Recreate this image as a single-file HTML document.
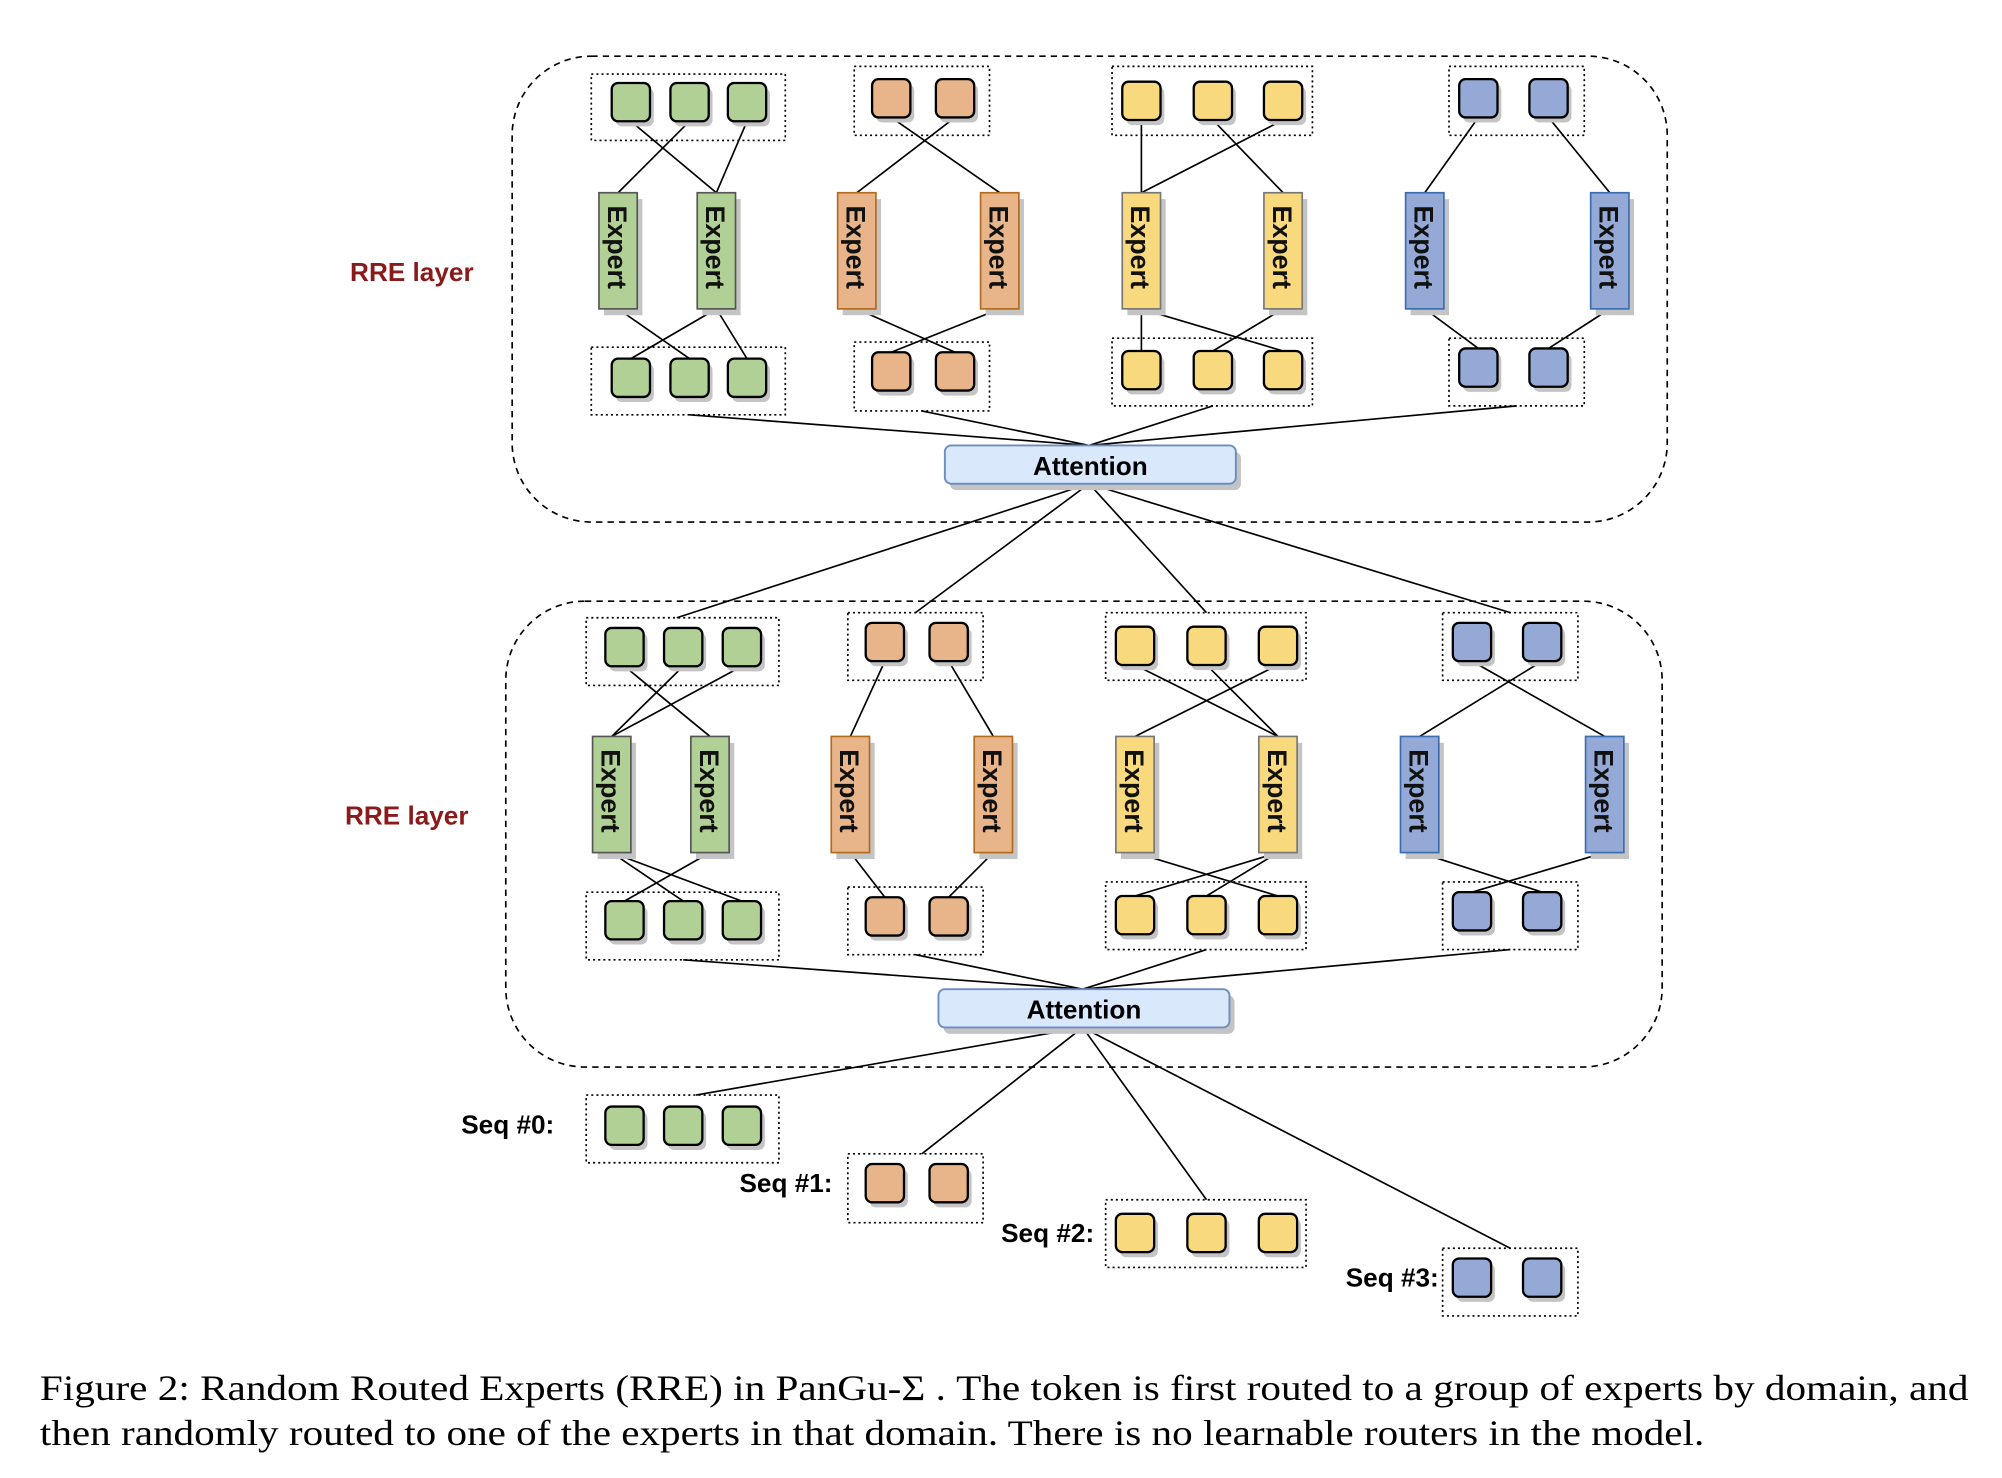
<!DOCTYPE html>
<html><head><meta charset="utf-8"><style>
html,body{margin:0;padding:0;background:#fff;width:2002px;height:1478px;overflow:hidden}
svg{display:block}
.l{stroke:#000;stroke-width:1.3;fill:none}
.dot{fill:none;stroke:#000;stroke-width:1.3;stroke-dasharray:1.6,2.4}
.sh{fill:#c4c4c4}
.sq{stroke:#000;stroke-width:1.8}
.g{fill:#b0d095}.o{fill:#e8b48a}.y{fill:#f8d97d}.b{fill:#94a9d6}
.ex{font-family:"Liberation Sans",sans-serif;font-weight:bold;font-size:21px;fill:#111}
.lab{font-family:"Liberation Sans",sans-serif;font-weight:bold;font-size:20.5px}
</style></head><body>
<svg width="2002" height="1478" viewBox="0 0 1568 1158" xmlns="http://www.w3.org/2000/svg">
<defs>
<g id="sqg"><rect x="3" y="4" width="30" height="30" rx="5" class="sh"/><rect width="30" height="30" rx="5" class="sq g"/></g>
<g id="sqo"><rect x="3" y="4" width="30" height="30" rx="5" class="sh"/><rect width="30" height="30" rx="5" class="sq o"/></g>
<g id="sqy"><rect x="3" y="4" width="30" height="30" rx="5" class="sh"/><rect width="30" height="30" rx="5" class="sq y"/></g>
<g id="sqb"><rect x="3" y="4" width="30" height="30" rx="5" class="sh"/><rect width="30" height="30" rx="5" class="sq b"/></g>
</defs>

<rect x="401" y="44" width="905" height="365" rx="62" fill="none" stroke="#000" stroke-width="1.3" stroke-dasharray="5,4"/>
<text x="274" y="220" class="lab" fill="#8b1a1a">RRE layer</text>

<g class="l">
<line x1="494" y1="95" x2="561" y2="151"/><line x1="540" y1="95" x2="484" y2="151"/><line x1="585" y1="95" x2="561" y2="151"/>
<line x1="484" y1="242" x2="540" y2="281"/><line x1="561" y1="242" x2="494" y2="281"/><line x1="561" y1="242" x2="585" y2="281"/>
<line x1="698" y1="92" x2="783" y2="151"/><line x1="748" y1="92" x2="671" y2="151"/>
<line x1="671" y1="242" x2="748" y2="276"/><line x1="783" y1="242" x2="698" y2="276"/>
<line x1="894" y1="94" x2="894" y2="151"/><line x1="950" y1="94" x2="1005" y2="151"/><line x1="1005" y1="94" x2="894" y2="151"/>
<line x1="894" y1="242" x2="894" y2="275"/><line x1="894" y1="242" x2="1005" y2="275"/><line x1="1005" y1="242" x2="950" y2="275"/>
<line x1="1158" y1="92" x2="1116" y2="151"/><line x1="1213" y1="92" x2="1261" y2="151"/>
<line x1="1116" y1="242" x2="1158" y2="273"/><line x1="1261" y1="242" x2="1213" y2="273"/>
<line x1="540" y1="325" x2="853" y2="349"/><line x1="722" y1="322" x2="853" y2="349"/><line x1="950" y1="318" x2="853" y2="349"/><line x1="1188" y1="318" x2="853" y2="349"/>
<line x1="853" y1="379" x2="530" y2="484"/><line x1="853" y1="379" x2="717" y2="480"/><line x1="853" y1="379" x2="945" y2="480"/><line x1="853" y1="379" x2="1183" y2="480"/>
</g>

<rect x="463" y="58" width="152" height="52" class="dot"/>
<rect x="669" y="52" width="106" height="54" class="dot"/>
<rect x="871" y="52" width="157" height="54" class="dot"/>
<rect x="1135" y="52" width="106" height="54" class="dot"/>
<rect x="463" y="272" width="152" height="53" class="dot"/>
<rect x="669" y="268" width="106" height="54" class="dot"/>
<rect x="871" y="265" width="157" height="53" class="dot"/>
<rect x="1135" y="265" width="106" height="53" class="dot"/>

<use href="#sqg" x="479" y="65"/><use href="#sqg" x="525" y="65"/><use href="#sqg" x="570" y="65"/>
<use href="#sqo" x="683" y="62"/><use href="#sqo" x="733" y="62"/>
<use href="#sqy" x="879" y="64"/><use href="#sqy" x="935" y="64"/><use href="#sqy" x="990" y="64"/>
<use href="#sqb" x="1143" y="62"/><use href="#sqb" x="1198" y="62"/>
<use href="#sqg" x="479" y="281"/><use href="#sqg" x="525" y="281"/><use href="#sqg" x="570" y="281"/>
<use href="#sqo" x="683" y="276"/><use href="#sqo" x="733" y="276"/>
<use href="#sqy" x="879" y="275"/><use href="#sqy" x="935" y="275"/><use href="#sqy" x="990" y="275"/>
<use href="#sqb" x="1143" y="273"/><use href="#sqb" x="1198" y="273"/>

<g>
<rect x="473" y="156" width="30" height="91" class="sh"/><rect x="469" y="151" width="30" height="91" fill="#b0d095" stroke="#555" stroke-width="1.3"/>
<rect x="550" y="156" width="30" height="91" class="sh"/><rect x="546" y="151" width="30" height="91" fill="#b0d095" stroke="#555" stroke-width="1.3"/>
<rect x="660" y="156" width="30" height="91" class="sh"/><rect x="656" y="151" width="30" height="91" fill="#e8b48a" stroke="#b46a1c" stroke-width="1.3"/>
<rect x="772" y="156" width="30" height="91" class="sh"/><rect x="768" y="151" width="30" height="91" fill="#e8b48a" stroke="#b46a1c" stroke-width="1.3"/>
<rect x="883" y="156" width="30" height="91" class="sh"/><rect x="879" y="151" width="30" height="91" fill="#f8d97d" stroke="#777" stroke-width="1.3"/>
<rect x="994" y="156" width="30" height="91" class="sh"/><rect x="990" y="151" width="30" height="91" fill="#f8d97d" stroke="#777" stroke-width="1.3"/>
<rect x="1105" y="156" width="30" height="91" class="sh"/><rect x="1101" y="151" width="30" height="91" fill="#94a9d6" stroke="#3a6db0" stroke-width="1.3"/>
<rect x="1250" y="156" width="30" height="91" class="sh"/><rect x="1246" y="151" width="30" height="91" fill="#94a9d6" stroke="#3a6db0" stroke-width="1.3"/>
</g>
<text class="ex" transform="translate(476,161) rotate(90)">Expert</text>
<text class="ex" transform="translate(553,161) rotate(90)">Expert</text>
<text class="ex" transform="translate(663,161) rotate(90)">Expert</text>
<text class="ex" transform="translate(775,161) rotate(90)">Expert</text>
<text class="ex" transform="translate(886,161) rotate(90)">Expert</text>
<text class="ex" transform="translate(997,161) rotate(90)">Expert</text>
<text class="ex" transform="translate(1108,161) rotate(90)">Expert</text>
<text class="ex" transform="translate(1253,161) rotate(90)">Expert</text>

<rect x="744" y="354" width="228" height="30" rx="5" class="sh"/>
<rect x="740" y="349" width="228" height="30" rx="5" fill="#dae8fc" stroke="#6c8ebf" stroke-width="1.5"/>
<text x="854" y="372" text-anchor="middle" class="lab">Attention</text>

<rect x="396" y="471" width="906" height="365" rx="62" fill="none" stroke="#000" stroke-width="1.3" stroke-dasharray="5,4"/>
<text x="270" y="646" class="lab" fill="#8b1a1a">RRE layer</text>

<g class="l">
<line x1="489" y1="522" x2="556" y2="577"/><line x1="535" y1="522" x2="479" y2="577"/><line x1="581" y1="522" x2="479" y2="577"/>
<line x1="479" y1="668" x2="535" y2="706"/><line x1="479" y1="668" x2="581" y2="706"/><line x1="556" y1="668" x2="489" y2="706"/>
<line x1="693" y1="518" x2="666" y2="577"/><line x1="743" y1="518" x2="778" y2="577"/>
<line x1="666" y1="668" x2="693" y2="703"/><line x1="778" y1="668" x2="743" y2="703"/>
<line x1="889" y1="521" x2="1001" y2="577"/><line x1="945" y1="521" x2="1001" y2="577"/><line x1="1001" y1="521" x2="889" y2="577"/>
<line x1="889" y1="668" x2="1001" y2="702"/><line x1="1001" y1="668" x2="889" y2="702"/><line x1="1001" y1="668" x2="945" y2="702"/>
<line x1="1153" y1="518" x2="1257" y2="577"/><line x1="1208" y1="518" x2="1112" y2="577"/>
<line x1="1112" y1="668" x2="1208" y2="699"/><line x1="1257" y1="668" x2="1153" y2="699"/>
<line x1="535" y1="752" x2="848" y2="775"/><line x1="717" y1="748" x2="848" y2="775"/><line x1="945" y1="744" x2="848" y2="775"/><line x1="1183" y1="744" x2="848" y2="775"/>
<line x1="848" y1="805" x2="545" y2="858"/><line x1="848" y1="805" x2="722" y2="904"/><line x1="848" y1="805" x2="945" y2="940"/><line x1="848" y1="805" x2="1183" y2="978"/>
</g>

<rect x="459" y="484" width="151" height="53" class="dot"/>
<rect x="664" y="480" width="106" height="53" class="dot"/>
<rect x="866" y="480" width="157" height="53" class="dot"/>
<rect x="1130" y="480" width="106" height="53" class="dot"/>
<rect x="459" y="699" width="151" height="53" class="dot"/>
<rect x="664" y="695" width="106" height="53" class="dot"/>
<rect x="866" y="691" width="157" height="53" class="dot"/>
<rect x="1130" y="691" width="106" height="53" class="dot"/>

<use href="#sqg" x="474" y="492"/><use href="#sqg" x="520" y="492"/><use href="#sqg" x="566" y="492"/>
<use href="#sqo" x="678" y="488"/><use href="#sqo" x="728" y="488"/>
<use href="#sqy" x="874" y="491"/><use href="#sqy" x="930" y="491"/><use href="#sqy" x="986" y="491"/>
<use href="#sqb" x="1138" y="488"/><use href="#sqb" x="1193" y="488"/>
<use href="#sqg" x="474" y="706"/><use href="#sqg" x="520" y="706"/><use href="#sqg" x="566" y="706"/>
<use href="#sqo" x="678" y="703"/><use href="#sqo" x="728" y="703"/>
<use href="#sqy" x="874" y="702"/><use href="#sqy" x="930" y="702"/><use href="#sqy" x="986" y="702"/>
<use href="#sqb" x="1138" y="699"/><use href="#sqb" x="1193" y="699"/>

<g>
<rect x="468" y="582" width="30" height="91" class="sh"/><rect x="464" y="577" width="30" height="91" fill="#b0d095" stroke="#555" stroke-width="1.3"/>
<rect x="545" y="582" width="30" height="91" class="sh"/><rect x="541" y="577" width="30" height="91" fill="#b0d095" stroke="#555" stroke-width="1.3"/>
<rect x="655" y="582" width="30" height="91" class="sh"/><rect x="651" y="577" width="30" height="91" fill="#e8b48a" stroke="#b46a1c" stroke-width="1.3"/>
<rect x="767" y="582" width="30" height="91" class="sh"/><rect x="763" y="577" width="30" height="91" fill="#e8b48a" stroke="#b46a1c" stroke-width="1.3"/>
<rect x="878" y="582" width="30" height="91" class="sh"/><rect x="874" y="577" width="30" height="91" fill="#f8d97d" stroke="#777" stroke-width="1.3"/>
<rect x="990" y="582" width="30" height="91" class="sh"/><rect x="986" y="577" width="30" height="91" fill="#f8d97d" stroke="#777" stroke-width="1.3"/>
<rect x="1101" y="582" width="30" height="91" class="sh"/><rect x="1097" y="577" width="30" height="91" fill="#94a9d6" stroke="#3a6db0" stroke-width="1.3"/>
<rect x="1246" y="582" width="30" height="91" class="sh"/><rect x="1242" y="577" width="30" height="91" fill="#94a9d6" stroke="#3a6db0" stroke-width="1.3"/>
</g>
<text class="ex" transform="translate(471,587) rotate(90)">Expert</text>
<text class="ex" transform="translate(548,587) rotate(90)">Expert</text>
<text class="ex" transform="translate(658,587) rotate(90)">Expert</text>
<text class="ex" transform="translate(770,587) rotate(90)">Expert</text>
<text class="ex" transform="translate(881,587) rotate(90)">Expert</text>
<text class="ex" transform="translate(993,587) rotate(90)">Expert</text>
<text class="ex" transform="translate(1104,587) rotate(90)">Expert</text>
<text class="ex" transform="translate(1249,587) rotate(90)">Expert</text>

<rect x="739" y="780" width="228" height="30" rx="5" class="sh"/>
<rect x="735" y="775" width="228" height="30" rx="5" fill="#dae8fc" stroke="#6c8ebf" stroke-width="1.5"/>
<text x="849" y="798" text-anchor="middle" class="lab">Attention</text>

<rect x="459" y="858" width="151" height="53" class="dot"/>
<rect x="664" y="904" width="106" height="54" class="dot"/>
<rect x="866" y="940" width="157" height="53" class="dot"/>
<rect x="1130" y="978" width="106" height="53" class="dot"/>
<use href="#sqg" x="474" y="867"/><use href="#sqg" x="520" y="867"/><use href="#sqg" x="566" y="867"/>
<use href="#sqo" x="678" y="912"/><use href="#sqo" x="728" y="912"/>
<use href="#sqy" x="874" y="951"/><use href="#sqy" x="930" y="951"/><use href="#sqy" x="986" y="951"/>
<use href="#sqb" x="1138" y="986"/><use href="#sqb" x="1193" y="986"/>
<text x="434" y="888" text-anchor="end" class="lab">Seq #0:</text>
<text x="652" y="934" text-anchor="end" class="lab">Seq #1:</text>
<text x="857" y="973" text-anchor="end" class="lab">Seq #2:</text>
<text x="1127" y="1008" text-anchor="end" class="lab">Seq #3:</text>

<text x="31" y="1097" font-family="Liberation Serif, serif" font-size="28" textLength="1511" lengthAdjust="spacingAndGlyphs">Figure 2: Random Routed Experts (RRE) in PanGu-Σ . The token is first routed to a group of experts by domain, and</text>
<text x="31" y="1132" font-family="Liberation Serif, serif" font-size="28" textLength="1304" lengthAdjust="spacingAndGlyphs">then randomly routed to one of the experts in that domain. There is no learnable routers in the model.</text>
</svg>
</body></html>
